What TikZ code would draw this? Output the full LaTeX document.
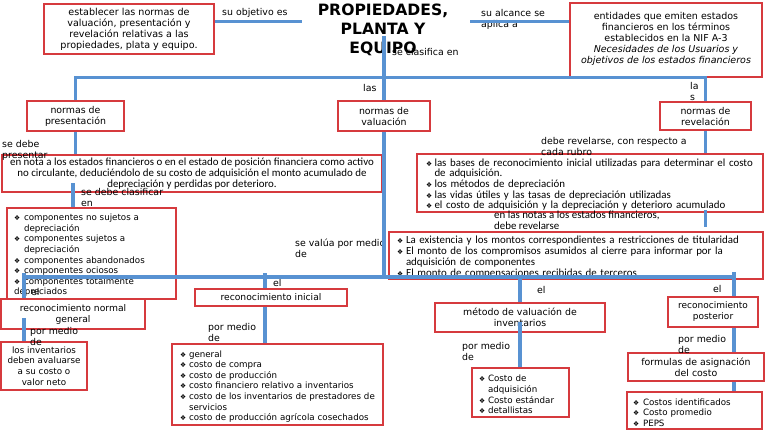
\documentclass[tikz,border=0pt]{standalone}
\usepackage{fontspec}
\setmainfont{DejaVu Sans}
\newfontfamily\carl{Carlito}
\newfontfamily\djv{DejaVu Sans}
\definecolor{boxred}{RGB}{214,58,62}
\definecolor{lineblue}{RGB}{88,146,210}
\newcommand{\bulsym}{{\djv\fontsize{6.8}{6.8}\selectfont ❖}}
\newcommand{\litem}[2]{\par\hangindent=#1\hangafter=1\noindent\makebox[#1][l]{\bulsym}\mbox{#2}}
\newcommand{\litemm}[3]{\par\hangindent=#1\hangafter=1\noindent\makebox[#1][l]{\bulsym}\mbox{#2}\newline\mbox{#3}}
\tikzset{
 box/.style={draw=boxred, fill=white, line width=1.2pt, inner sep=0pt, align=center, text=black},
 lbox/.style={box, align=left},
 wh/.style 2 args={minimum width=#1pt, minimum height=#2pt},
 tw/.style={text width=#1pt},
 conn/.style={draw=lineblue, line width=3.2pt},
 lbl/.style={inner sep=0pt, anchor=base west, align=left, text=black},
 fs/.style={font=\fontsize{9.4}{11}\selectfont},
 fl/.style={font=\fontsize{8.7}{10.6}\selectfont},
 fc/.style={font=\carl\fontsize{10.9}{10.7}\selectfont},
}
\begin{document}
\begin{tikzpicture}[x=1pt,y=-1pt]
\fill[white] (0,0) rectangle (768,433);
\useasboundingbox (0,0) rectangle (768,433);

% title
\node[inner sep=0pt, align=center, font=\bfseries\fontsize{15.6}{19}\selectfont] (title) at (383,30) {PROPIEDADES,\\PLANTA Y\\EQUIPO};

% boxes
\node[box, wh={170}{50}, font=\fontsize{9.6}{11}\selectfont] (obj) at (129,29) {establecer las normas de\\valuación, presentación y\\revelación relativas a las\\propiedades, plata y equipo.};
\node[box, wh={192}{74}, font=\fontsize{9.5}{11.1}\selectfont] (ent) at (666,40) {entidades que emiten estados\\financieros en los términos\\establecidos en la NIF A-3\\\textit{Necesidades de los Usuarios y}\\\textit{objetivos de los estados financieros}\\[-7pt]};
\node[box, fs, wh={97}{30}] (pres) at (75.5,116) {normas de\\presentación};
\node[box, fs, wh={92}{30}] (val) at (384,116) {normas de\\valuación};
\node[box, fs, wh={91}{28}] (rev) at (705.5,116) {normas de\\revelación};
\node[box, fc, wh={380}{37}] (nota) at (192,173.5) {en nota a los estados financieros o en el estado de posición financiera como activo\\no circulante, deduciéndolo de su costo de adquisición el monto acumulado de\\depreciación y perdidas por deterioro.};
\node[lbox, fl, wh={169}{91}, tw=155, inner xsep=7pt] (comp) at (91.5,253.5) {\litemm{10pt}{componentes no sujetos a}{depreciación}\litemm{10pt}{componentes sujetos a}{depreciación}\litem{10pt}{componentes abandonados}\litem{10pt}{componentes ociosos}\litemm{10pt}{componentes totalmente}{depreciados}};
\node[lbox, fc, wh={346}{58}, tw=328, inner xsep=9pt] (bases) at (590,183) {\litemm{8.5pt}{las bases de reconocimiento inicial utilizadas para determinar el costo}{de adquisición.}\litem{8.5pt}{los métodos de depreciación}\litem{8.5pt}{las vidas útiles y las tasas de depreciación utilizadas}\litem{8.5pt}{el costo de adquisición y la depreciación y deterioro acumulado}};
\node[lbox, fc, wh={374}{47}, tw=358, inner xsep=8pt] (exist) at (576,255.5) {\litem{9pt}{La existencia y los montos correspondientes a restricciones de titularidad}\litemm{9pt}{El monto de los compromisos asumidos al cierre para informar por la}{adquisición de componentes}\litem{9pt}{El monto de compensaciones recibidas de terceros}};
\node[box, font=\fontsize{9.2}{11}\selectfont, wh={144}{30}] (rng) at (73,314) {reconocimiento normal\\general};
\node[box, font=\fontsize{8.75}{10.7}\selectfont, wh={86}{48}] (inv) at (44,366) {los inventarios\\deben avaluarse\\a su costo o\\valor neto};
\node[box, font=\fontsize{9.2}{11}\selectfont, wh={152}{17}] (ri) at (271,297.5) {reconocimiento inicial};
\node[lbox, fl, wh={211}{81}, tw=195, inner xsep=8pt] (gen) at (277.5,384.5) {\litem{9pt}{general}\litem{9pt}{costo de compra}\litem{9pt}{costo de producción}\litem{9pt}{costo financiero relativo a inventarios}\litemm{9pt}{costo de los inventarios de prestadores de}{servicios}\litem{9pt}{costo de producción agrícola cosechados}};
\node[box, fs, wh={170}{29}] (met) at (520,317.5) {método de valuación de\\inventarios};
\node[lbox, fl, wh={97}{49}, tw=83, inner xsep=7pt] (cost) at (520.5,392.5) {\litemm{9pt}{Costo de}{adquisición}\litem{9pt}{Costo estándar}\litem{9pt}{detallistas}};
\node[box, font=\fontsize{9.0}{11}\selectfont, wh={90}{30}] (rp) at (713,312) {reconocimiento\\posterior};
\node[box, fs, wh={136}{28}] (form) at (696,367) {formulas de asignación\\del costo};
\node[lbox, fl, wh={135}{37}, tw=123, inner xsep=6pt] (ident) at (694.5,410.5) {\litem{10pt}{Costos identificados}\litem{10pt}{Costo promedio}\litem{10pt}{PEPS}};

% labels (base = baseline of the last line)
\node[lbl, fs] (l1) at (222,16) {su objetivo es};
\node[lbl, fs] (l2) at (481,28) {su alcance se\\aplica a};
\node[lbl, fs] (l3) at (392,56) {se clasifica en};
\node[lbl, fs] (l4) at (363,92) {las};
\node[lbl, fs] (l5) at (690,101) {la\\s};
\node[lbl, fs] (l6) at (2,158) {se debe\\presentar};
\node[lbl, fs] (l7) at (81,206) {se debe clasificar\\en};
\node[lbl, fs] (l8) at (541,156) {debe revelarse, con respecto a\\cada rubro};
\node[lbl, fc] (l9) at (494,229) {en las notas a los estados financieros,\\debe revelarse};
\node[lbl, fs] (l10) at (295,257) {se valúa por medio\\de};
\node[lbl, fs] (l11) at (273,286) {el};
\node[lbl, fs] (l12) at (537,293) {el};
\node[lbl, fs] (l13) at (713,292) {el};
\node[lbl, fs] (l14) at (31,295) {el};
\node[lbl, fs] (l15) at (30,345) {por medio\\de};
\node[lbl, fs] (l16) at (208,341) {por medio\\de};
\node[lbl, fs] (l17) at (462,360) {por medio\\de};
\node[lbl, fs] (l18) at (678,353) {por medio\\de};

% junction coordinates
\coordinate (lo) at (302,21.5);
\coordinate (ro) at (470,21.5);
\coordinate (tt) at (384,36);
\coordinate (hc) at (384,77.5);
\coordinate (nb) at (73,183);
\coordinate (rb) at (705.5,210);
\coordinate (rbe) at (705.5,227);
\coordinate (hb) at (384,277);
\coordinate (hl) at (24,277);
\coordinate (hr) at (734,277);
\coordinate (lv) at (24,273);
\coordinate (rv) at (734,272);
\coordinate (iv) at (265,273);
\coordinate (mv) at (520,277);
\coordinate (gv) at (24,318);
\coordinate (mv2) at (520,322);

% connectors
\draw[conn] (obj.east |- lo) -- (lo);
\draw[conn] (ro) -- (ent.west |- ro);
\draw[conn] (tt) -- (hc) -- (val.north);
\draw[conn] (pres.north) |- (hc) -| (rev.north);
\draw[conn] (pres.south) -- (pres.south |- nota.north);
\draw[conn] (nb) -- (nb |- comp.north);
\draw[conn] (rev.south) -- (bases.north -| rev.south);
\draw[conn] (rb) -- (rbe);
\draw[conn] (val.south) -- (hb);
\draw[conn] (hl) -- (hr);
\draw[conn] (lv) -- (lv |- rng.north);
\draw[conn] (rv) -- (rv |- rp.north);
\draw[conn] (iv) -- (iv |- ri.north);
\draw[conn] (mv) -- (met.north);
\draw[conn] (gv) -- (gv |- inv.north);
\draw[conn] (ri.south -| iv) -- (iv |- gen.north);
\draw[conn] (mv2) -- (mv2 |- cost.north);
\draw[conn] (rp.south -| rv) -- (rv |- form.north);
\draw[conn] (form.south -| rv) -- (rv |- ident.north);
\end{tikzpicture}
\end{document}
